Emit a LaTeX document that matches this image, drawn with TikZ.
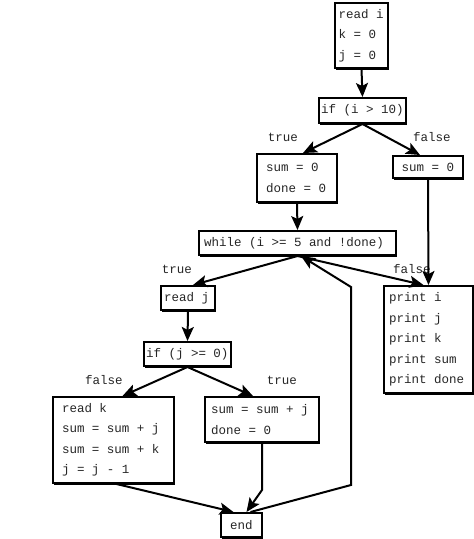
\documentclass[tikz,border=0pt]{standalone}
\usepackage{fontspec}
\newfontfamily\monof{Liberation Mono}
\usetikzlibrary{arrows.meta,shadows}
\newcommand\mfont[1]{\monof\fontsize{12.5}{#1}\selectfont}
\newcommand\spc{\hspace*{7.5pt}}
\begin{document}
\begin{tikzpicture}[x=1pt,y=-1pt,
  box/.style={draw, fill=white, line width=2pt, inner ysep=0pt, align=left,
    font=\mfont{20.5}, text=black!85,
    drop shadow={shadow xshift=1pt, shadow yshift=-1.5pt, fill=black, opacity=1}},
  lab/.style={font=\mfont{15}, text=black!85, inner sep=0pt},
  arr/.style={line width=2pt, -{Stealth[length=14pt,width=12pt,inset=3pt]}}]
\useasboundingbox (0,0) rectangle (474,539);
% boxes
\node[box, inner xsep=3.5pt, text width=46pt, minimum height=65pt] (readi) at (361.5,35.5) {read\spc i\\k\spc=\spc0\\j\spc=\spc0};
\node[box, inner xsep=2pt, text width=83pt, minimum height=25pt] (ifi) at (362.5,110.5) {if\spc(i\spc>\spc10)};
\node[box, inner xsep=9pt, text width=62pt, minimum height=48pt] (sumdone) at (297,178) {sum\spc=\spc0\\done\spc=\spc0};
\node[box, inner xsep=8.5pt, text width=53pt, minimum height=22pt] (sumf) at (428,167) {sum\spc=\spc0};
\node[box, inner xsep=5pt, text width=187pt, minimum height=24pt] (while) at (297.5,243) {while\spc(i\spc>=\spc5\spc and\spc!done)};
\node[box, inner xsep=3pt, text width=48pt, minimum height=24pt] (readj) at (188,298) {read\spc j};
\node[box, inner xsep=2pt, text width=83pt, minimum height=24pt] (ifj) at (187.5,354) {if\spc(j\spc>=\spc0)};
\node[box, inner xsep=5pt, text width=79pt, minimum height=107pt] (print) at (428.5,339.5) {print\spc i\\print\spc j\\print\spc k\\print\spc sum\\print\spc done};
\node[box, inner xsep=9pt, text width=103pt, minimum height=86pt] (readk) at (113.5,440) {read\spc k\\sum\spc=\spc sum\spc+\spc j\\sum\spc=\spc sum\spc+\spc k\\j\spc=\spc j\spc-\spc1};
\node[box, inner xsep=6pt, text width=102pt, minimum height=45pt] (sumj) at (262,419.5) {sum\spc=\spc sum\spc+\spc j\\done\spc=\spc0};
\node[box, inner xsep=9pt, text width=23pt, minimum height=24pt] (end) at (241.5,525) {end};
% labels
\node[lab] (l1) at (283,137) {true};
\node[lab] (l2) at (432,137) {false};
\node[lab] (l3) at (177,269) {true};
\node[lab] (l4) at (412,269) {false};
\node[lab] (l5) at (104,380) {false};
\node[lab] (l6) at (282,380) {true};
% bend points
\coordinate (c1) at (262,490);
\coordinate (c2) at (351,485);
\coordinate (c3) at (351,287);
% connectors
\draw[arr] (readi.south) -- (ifi.north);
\draw[arr] (ifi.south) -- ([xshift=6pt]sumdone.north);
\draw[arr] (ifi.south) -- ([xshift=-8pt]sumf.north);
\draw[arr] (sumdone.south) -- (while.north);
\draw[arr] (sumf.south) -- (print.north);
\draw[arr] (while.south) -- ([xshift=5pt]readj.north);
\draw[arr] (while.south) -- ([xshift=-5pt]print.north);
\draw[arr] (readj.south) -- (ifj.north);
\draw[arr] (ifj.south) -- ([xshift=9pt]readk.north);
\draw[arr] (ifj.south) -- ([xshift=-9pt]sumj.north);
\draw[arr] ([xshift=3pt]readk.south) -- ([xshift=-8pt]end.north);
\draw[arr] (sumj.south) -- (c1) -- ([xshift=5pt]end.north);
\draw[arr] ([xshift=9pt]end.north) -- (c2) -- (c3) -- ([xshift=3.5pt]while.south);
\end{tikzpicture}
\end{document}
